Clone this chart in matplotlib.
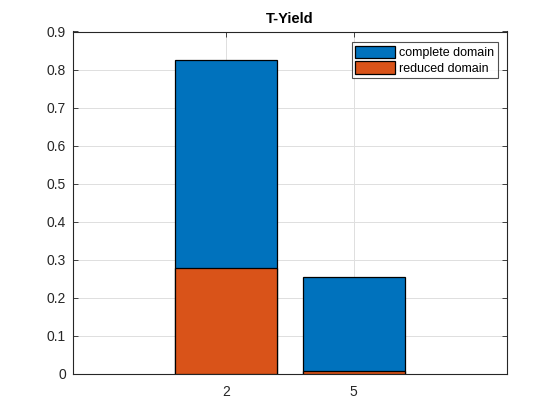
import matplotlib
matplotlib.use("Agg")
import matplotlib.pyplot as plt
import numpy as np

# Data
categories = ["2", "5"]
complete_domain = [0.824, 0.254]
reduced_domain = [0.279, 0.008]

plt.rcParams['font.family'] = ['Liberation Sans', 'DejaVu Sans']

fig = plt.figure(figsize=(5.6, 4.2), dpi=100)
fig.set_facecolor('white')
ax = fig.add_axes([0.13, 0.11, 0.775, 0.815])

x = np.arange(1, len(categories) + 1)
ax.bar(x, complete_domain, width=0.8, color='#0072BD', edgecolor='black',
       linewidth=0.9, label='complete domain', zorder=3)
ax.bar(x, reduced_domain, width=0.8, color='#D95319', edgecolor='black',
       linewidth=0.9, label='reduced domain', zorder=3)

ax.set_xlim(-0.195, 3.195)
ax.set_ylim(0, 0.9)
ax.set_xticks(x)
ax.set_xticklabels(categories)
ax.set_yticks(np.arange(0, 0.91, 0.1))
ax.set_yticklabels(['0'] + ['%.1f' % v for v in np.arange(0.1, 0.91, 0.1)])

ax.grid(True, color='#dfdfdf', linewidth=0.7, zorder=0)
ax.set_axisbelow(True)
ax.tick_params(direction='in', top=True, right=True, length=3.5, width=0.6,
               colors='#262626', labelsize=10)
ax.tick_params(axis='x', pad=8)
ax.tick_params(axis='y', pad=5)
for s in ax.spines.values():
    s.set_color('#262626')
    s.set_linewidth(0.8)

ax.set_title('T-Yield', fontsize=10.5, fontweight='bold', color='#000000', pad=6)

leg = ax.legend(loc='upper right', bbox_to_anchor=(0.98, 0.97), fontsize=9,
                frameon=True, fancybox=False, borderpad=0.3, labelspacing=0.15,
                handlelength=3.2, handleheight=1.2, handletextpad=0.3,
                borderaxespad=0)
leg.get_frame().set_edgecolor('#262626')
leg.get_frame().set_linewidth(0.8)

fig.savefig('out.png', dpi=100, facecolor='white')
